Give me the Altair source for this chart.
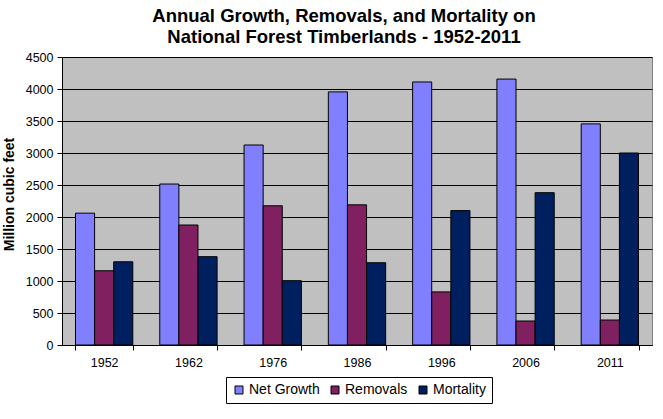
import altair as alt
import pandas as pd

years = ["1952", "1962", "1976", "1986", "1996", "2006", "2011"]
series = ["Net Growth", "Removals", "Mortality"]
net_growth = [2060, 2515, 3125, 3955, 4110, 4155, 3455]
removals = [1160, 1875, 2175, 2190, 830, 375, 390]
mortality = [1300, 1380, 1005, 1285, 2100, 2380, 3000]
colors = ["#8080FF", "#802060", "#001F5F"]

rows = []
for name, vals in zip(series, [net_growth, removals, mortality]):
    for yr, v in zip(years, vals):
        rows.append({"year": yr, "series": name, "value": v})
df = pd.DataFrame(rows)

FONT = "Liberation Sans"

chart = (
    alt.Chart(df)
    .mark_bar(stroke="black", strokeWidth=1)
    .encode(
        x=alt.X(
            "year:N",
            sort=years,
            title=None,
            scale=alt.Scale(paddingInner=0.32, paddingOuter=0.16),
            axis=alt.Axis(
                labelAngle=0,
                labelFontSize=12.5,
                labelColor="black",
                labelPadding=6,
                tickBand="extent",
                tickColor="black",
                tickSize=5,
                domainColor="black",
                grid=False,
            ),
        ),
        xOffset=alt.XOffset("series:N", sort=series),
        y=alt.Y(
            "value:Q",
            title="Million cubic feet",
            scale=alt.Scale(domain=[0, 4500], nice=False),
            axis=alt.Axis(
                values=list(range(0, 4501, 500)),
                format="d",
                labelFontSize=12.5,
                labelColor="black",
                labelPadding=4,
                tickColor="black",
                tickSize=5,
                domainColor="black",
                grid=True,
                gridColor="black",
                gridOpacity=1,
                titleFontSize=14,
                titleFontWeight="bold",
                titleColor="black",
                titleX=-46,
                titleY=137,
            ),
        ),
        color=alt.Color(
            "series:N",
            sort=series,
            scale=alt.Scale(domain=series, range=colors),
            legend=alt.Legend(
                title=None,
                orient="none",
                direction="horizontal",
                legendX=164,
                legendY=320,
                symbolType="square",
                symbolSize=64,
                symbolStrokeColor="black",
                symbolStrokeWidth=1,
                symbolOpacity=1,
                labelFontSize=14,
                labelColor="black",
                labelOffset=3,
                columnPadding=8,
                padding=6,
                strokeColor="black",
                fillColor="white",
            ),
        ),
    )
    .properties(
        width=590,
        height=288,
        autosize=alt.AutoSizeParams(type="none"),
        padding={"left": 62, "top": 57, "right": 11, "bottom": 74},
        title=alt.TitleParams(
            text=["Annual Growth, Removals, and Mortality on", "National Forest Timberlands - 1952-2011"],
            fontSize=18.5,
            fontWeight="bold",
            color="black",
            anchor="middle",
            dx=-13,
            offset=5,
            lineHeight=21,
        ),
    )
    .configure(font=FONT, background="white")
    .configure_view(fill="#C0C0C0", stroke="#808080", strokeWidth=1)
)

chart.save("out.html", embed_options={"renderer": "svg", "actions": False})
